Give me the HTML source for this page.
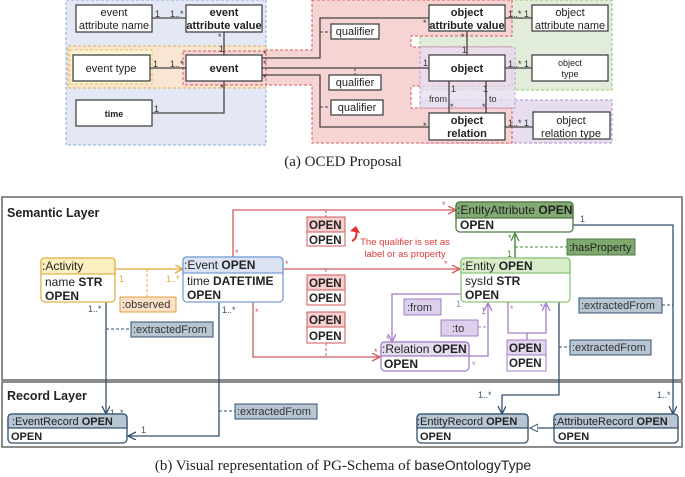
<!DOCTYPE html>
<html><head><meta charset="utf-8"><style>
html,body{margin:0;padding:0;background:#fff}
svg{display:block}
text{font-family:"Liberation Sans",sans-serif}
.s{font-family:"Liberation Serif",serif}
</style></head><body>
<svg width="685" height="477" viewBox="0 0 685 477" xmlns="http://www.w3.org/2000/svg">
<defs>
<marker id="ar" markerWidth="10" markerHeight="10" refX="8" refY="4" orient="auto" markerUnits="userSpaceOnUse"><path d="M0,0 L8,4 L0,8" fill="none" stroke="#d05a5a" stroke-width="1.3"/></marker>
<marker id="ao" markerWidth="10" markerHeight="10" refX="8" refY="4" orient="auto" markerUnits="userSpaceOnUse"><path d="M0,0 L8,4 L0,8" fill="none" stroke="#e0a838" stroke-width="1.3"/></marker>
<marker id="an" markerWidth="10" markerHeight="10" refX="8" refY="4" orient="auto" markerUnits="userSpaceOnUse"><path d="M0,0 L8,4 L0,8" fill="none" stroke="#34506e" stroke-width="1.3"/></marker>
<marker id="ap" markerWidth="10" markerHeight="10" refX="8" refY="4" orient="auto" markerUnits="userSpaceOnUse"><path d="M0,0 L8,4 L0,8" fill="none" stroke="#a57dc8" stroke-width="1.3"/></marker>
<marker id="ag" markerWidth="10" markerHeight="10" refX="8" refY="4" orient="auto" markerUnits="userSpaceOnUse"><path d="M0,0 L8,4 L0,8" fill="none" stroke="#4f8a40" stroke-width="1.3"/></marker>
<marker id="at" markerWidth="10" markerHeight="10" refX="8" refY="4" orient="auto" markerUnits="userSpaceOnUse"><path d="M0,0 L8,4 L0,8 Z" fill="#fff" stroke="#34506e" stroke-width="1"/></marker>
</defs>

<!-- ===== (a) regions ===== -->
<rect x="66" y="0" width="200" height="145" fill="#e3e8f4" stroke="#8eacdf" stroke-dasharray="3,2"/>
<rect x="68" y="46" width="198" height="42" fill="#f8e6d3" stroke="#e6b040" stroke-dasharray="3,2"/>
<rect x="70" y="50" width="82" height="34" fill="#fdf3d6" stroke="#e6c050" stroke-dasharray="3,2"/>
<rect x="420" y="0" width="192" height="90" fill="#e1edda" stroke="#8fc870" stroke-dasharray="3,2"/>
<rect x="420" y="100" width="192" height="43" fill="#e7def0" stroke="#b08fd0" stroke-dasharray="3,2"/>
<path d="M312,0 H512 V36 H411 V47 H512 V86 H411 V108 H512 V143 H312 V85 H266 V50 H312 Z" fill="#f7d4d4" stroke="#d85a5a" stroke-dasharray="3,2"/>
<rect x="183" y="51" width="83" height="34" fill="#f7d4d4" stroke="#d85a5a" stroke-dasharray="3,2"/>
<rect x="420" y="47" width="95" height="61" fill="#e7def0" stroke="#b08fd0" stroke-dasharray="3,2" opacity="0.8"/>

<g stroke="#444" stroke-width="1.3" fill="none">
<line x1="152" y1="18" x2="186" y2="18"/>
<line x1="224" y1="32" x2="224" y2="55"/>
<line x1="150" y1="68" x2="186" y2="68"/>
<path d="M224,81 V113 H152"/>
<path d="M262,58 H320 V18 H429"/>
<line x1="262" y1="68" x2="429" y2="68"/>
<path d="M262,75 H320 V127 H429"/>
<line x1="505" y1="18" x2="532" y2="18"/>
<line x1="505" y1="68" x2="532" y2="68"/>
<line x1="505" y1="127" x2="533" y2="127"/>
<line x1="467" y1="31" x2="467" y2="55"/>
<line x1="449" y1="81" x2="449" y2="113"/>
<line x1="486" y1="81" x2="486" y2="113"/>
</g>
<g stroke="#444" stroke-width="1" stroke-dasharray="3,2">
<line x1="320" y1="32" x2="331" y2="32"/><line x1="320" y1="107" x2="331" y2="107"/>
<line x1="355" y1="68" x2="355" y2="75"/>
</g>
<g fill="#fff" stroke="#444" stroke-width="1.3">
<rect x="76" y="5" width="76" height="27"/><rect x="186" y="5" width="76" height="27"/>
<rect x="73" y="55" width="77" height="26"/><rect x="186" y="55" width="76" height="26"/>
<rect x="76" y="100" width="76" height="26"/>
<rect x="331" y="24" width="48" height="15"/><rect x="329" y="75" width="52" height="15"/><rect x="331" y="100" width="52" height="15"/>
<rect x="429" y="5" width="76" height="26"/><rect x="532" y="5" width="76" height="26"/>
<rect x="429" y="55" width="76" height="26"/><rect x="532" y="55" width="76" height="26"/>
<rect x="429" y="113" width="76" height="27"/><rect x="533" y="112" width="77" height="27"/>
</g>
<g font-size="11" fill="#222" text-anchor="middle">
<text x="114" y="16">event</text><text x="114" y="29">attribute name</text>
<text x="224" y="16" font-weight="bold">event</text><text x="224" y="29" font-weight="bold">attribute value</text>
<text x="111" y="72">event type</text>
<text x="224" y="72" font-weight="bold">event</text>
<text x="114" y="117" font-size="9" font-weight="bold">time</text>
<text x="355" y="35">qualifier</text><text x="355" y="86">qualifier</text><text x="357" y="111">qualifier</text>
<text x="467" y="16" font-weight="bold">object</text><text x="467" y="29" font-weight="bold">attribute value</text>
<text x="570" y="16">object</text><text x="570" y="29">attribute name</text>
<text x="467" y="72" font-weight="bold">object</text>
<text x="570" y="66" font-size="9">object</text><text x="570" y="77" font-size="9">type</text>
<text x="467" y="124" font-weight="bold">object</text><text x="467" y="137" font-weight="bold">relation</text>
<text x="571" y="124">object</text><text x="571" y="137">relation type</text>
</g>
<g font-size="9" fill="#333">
<text x="155" y="17">1</text><text x="170" y="17">1..*</text>
<text x="218" y="40">*</text><text x="219" y="52">1</text>
<text x="153" y="67">1</text><text x="170" y="67">1..*</text>
<text x="220" y="91">*</text><text x="154" y="112">1</text>
<text x="263" y="57">*</text><text x="263" y="67">*</text><text x="263" y="81">*</text>
<text x="423" y="26">*</text><text x="423" y="66">1</text><text x="423" y="129">*</text>
<text x="508" y="17">1..* 1</text><text x="508" y="67">1..* 1</text><text x="508" y="126">1..* 1</text>
<text x="461" y="40">*</text><text x="462" y="53">1</text>
<text x="451" y="92">1</text><text x="483" y="92">1</text>
<text x="429" y="102">from</text><text x="489" y="102">to</text>
<text x="450" y="110">*</text><text x="482" y="110">*</text>
</g>
<text x="343" y="166" class="s" font-size="15" text-anchor="middle" fill="#222">(a) OCED Proposal</text>

<!-- ===== (b) ===== -->
<rect x="2" y="197" width="680" height="183" fill="#fff" stroke="#666" stroke-width="1.5"/>
<rect x="2" y="382" width="680" height="65" fill="#fff" stroke="#666" stroke-width="1.5"/>
<text x="7" y="217" font-size="12.5" font-weight="bold" fill="#222">Semantic Layer</text>
<text x="7" y="400" font-size="12.5" font-weight="bold" fill="#222">Record Layer</text>

<!-- red connectors -->
<g stroke="#d05a5a" stroke-width="1.3" fill="none">
<path d="M233,257 V210 H456" marker-end="url(#ar)"/>
<line x1="283" y1="269" x2="460" y2="269" marker-end="url(#ar)"/>
<path d="M253,302 V357 H380" marker-end="url(#ar)"/>
</g>
<g stroke="#d05a5a" stroke-width="1" stroke-dasharray="3,2">
<line x1="326" y1="210" x2="326" y2="217"/><line x1="326" y1="269" x2="326" y2="275"/><line x1="326" y1="343" x2="326" y2="357"/>
</g>
<path d="M352,241 q6,-3 4,-11" fill="none" stroke="#e03030" stroke-width="2"/>
<path d="M350,231 l6,-5 l4,7 z" fill="#e03030"/>
<text x="405" y="245" font-size="9.5" fill="#e03a3a" text-anchor="middle">The qualifier is set as</text>
<text x="405" y="257" font-size="9.5" fill="#e03a3a" text-anchor="middle">label or as property</text>
<g font-size="9" fill="#d05a5a">
<text x="235" y="256">*</text><text x="442" y="208">*</text><text x="285" y="267">*</text><text x="444" y="267">*</text>
<text x="255" y="315">*</text><text x="374" y="355">*</text>
</g>
<!-- red OPEN pairs -->
<g font-size="11.5" font-weight="bold" fill="#222">
<rect x="307" y="217" width="38" height="15" fill="#f6cfcf" stroke="#d05a5a"/><rect x="307" y="232" width="38" height="14" fill="#fff" stroke="#d05a5a"/>
<text x="309" y="229">OPEN</text><text x="309" y="244">OPEN</text>
<rect x="307" y="275" width="38" height="15" fill="#f6cfcf" stroke="#d05a5a"/><rect x="307" y="290" width="38" height="15" fill="#fff" stroke="#d05a5a"/>
<text x="309" y="287">OPEN</text><text x="309" y="302">OPEN</text>
<rect x="307" y="312" width="38" height="15" fill="#f6cfcf" stroke="#d05a5a"/><rect x="307" y="327" width="38" height="16" fill="#fff" stroke="#d05a5a"/>
<text x="309" y="324">OPEN</text><text x="309" y="340">OPEN</text>
</g>

<!-- orange -->
<line x1="115" y1="269" x2="183" y2="269" stroke="#e0a838" stroke-width="1.3" marker-end="url(#ao)"/>
<line x1="147" y1="269" x2="147" y2="297" stroke="#e0a838" stroke-dasharray="3,2"/>
<text x="119" y="282" font-size="9" fill="#e0a838">1</text><text x="166" y="282" font-size="9" fill="#e0a838">1..*</text>
<rect x="120" y="297" width="56" height="15" fill="#fbe1c6" stroke="#e0a040"/>
<text x="122" y="308" font-size="11" fill="#333">:observed</text>

<!-- navy -->
<g stroke="#34506e" stroke-width="1.3" fill="none">
<line x1="106" y1="302" x2="106" y2="414" marker-end="url(#an)"/>
<path d="M219,302 V436 H128" marker-end="url(#an)"/>
<path d="M573,225 H673 V414" marker-end="url(#an)"/>
<path d="M559,302 V395 H502 V414" marker-end="url(#an)"/>
<line x1="554" y1="428" x2="530" y2="428" marker-end="url(#at)"/>
</g>
<g stroke="#34506e" stroke-width="1" stroke-dasharray="3,2">
<line x1="106" y1="329" x2="131" y2="329"/><line x1="219" y1="411" x2="235" y2="411"/>
<line x1="662" y1="305" x2="673" y2="305"/><line x1="559" y1="347" x2="570" y2="347"/>
</g>
<g font-size="9" fill="#34506e">
<text x="88" y="312">1..*</text><text x="222" y="313">1..*</text><text x="110" y="416">1..*</text><text x="141" y="433">1</text>
<text x="580" y="222">1</text><text x="552" y="300">1..*</text><text x="478" y="398">1..*</text><text x="657" y="398">1..*</text>
</g>
<g font-size="11" fill="#333">
<rect x="131" y="322" width="82" height="15" fill="#b8c5d3" stroke="#34506e"/><text x="133" y="333">:extractedFrom</text>
<rect x="579" y="298" width="83" height="15" fill="#b8c5d3" stroke="#34506e"/><text x="581" y="309">:extractedFrom</text>
<rect x="570" y="340" width="81" height="15" fill="#b8c5d3" stroke="#34506e"/><text x="572" y="351">:extractedFrom</text>
<rect x="235" y="404" width="82" height="15" fill="#b8c5d3" stroke="#34506e"/><text x="237" y="415">:extractedFrom</text>
</g>

<!-- green -->
<line x1="515" y1="258" x2="515" y2="233" stroke="#4f8a40" stroke-width="1.5" marker-end="url(#ag)"/>
<line x1="515" y1="247" x2="567" y2="247" stroke="#4f8a40" stroke-dasharray="3,2"/>
<text x="508" y="241" font-size="9" fill="#4f8a40">*</text><text x="507" y="257" font-size="9" fill="#4f8a40">1</text>
<rect x="567" y="239" width="68" height="16" fill="#7ea86e" stroke="#4f7a45"/>
<text x="569" y="251" font-size="11" fill="#222">:hasProperty</text>

<!-- purple -->
<g stroke="#a57dc8" stroke-width="1.3" fill="none">
<path d="M461,294 H392 V342" marker-end="url(#ap)"/>
<path d="M469,356 H488 V303" marker-end="url(#ap)"/>
<path d="M508,302 V333 H546 V303" marker-end="url(#ap)"/>
<line x1="527" y1="333" x2="527" y2="340"/>
</g>
<line x1="478" y1="327" x2="488" y2="327" stroke="#a57dc8" stroke-dasharray="3,2"/>
<g font-size="9" fill="#a57dc8">
<text x="456" y="307">1</text><text x="481" y="314">1</text><text x="386" y="342">*</text><text x="472" y="368">*</text>
<text x="510" y="312">*</text><text x="540" y="310">*</text>
</g>
<rect x="404" y="299" width="37" height="16" fill="#ddd0ec" stroke="#a57dc8"/><text x="407" y="311" font-size="11" fill="#333">:from</text>
<rect x="441" y="320" width="37" height="16" fill="#ddd0ec" stroke="#a57dc8"/><text x="452" y="332" font-size="11" fill="#333">:to</text>
<g font-size="11.5" font-weight="bold" fill="#222">
<rect x="507" y="340" width="39" height="15" fill="#e2d6ee" stroke="#a57dc8"/><rect x="507" y="355" width="39" height="16" fill="#fff" stroke="#a57dc8"/>
<text x="509" y="352">OPEN</text><text x="509" y="367">OPEN</text>
</g>

<!-- nodes -->
<g font-size="12" fill="#222">
<!-- Activity -->
<rect x="41" y="258" width="74" height="44" rx="4" fill="#fff" stroke="#e2b24a" stroke-width="1.3"/>
<path d="M45,258 H111 Q115,258 115,262 V274 H41 V262 Q41,258 45,258 Z" fill="#fcefc0" stroke="#e2b24a" stroke-width="1.3"/>
<text x="42" y="270">:Activity</text><text x="45" y="286">name <tspan font-weight="bold">STR</tspan></text><text x="45" y="300" font-weight="bold">OPEN</text>
<!-- Event -->
<rect x="183" y="257" width="100" height="45" rx="4" fill="#fff" stroke="#7b9fd5" stroke-width="1.3"/>
<path d="M187,257 H279 Q283,257 283,261 V273 H183 V261 Q183,257 187,257 Z" fill="#dbe3f2" stroke="#7b9fd5" stroke-width="1.3"/>
<text x="184" y="269">:Event <tspan font-weight="bold">OPEN</tspan></text><text x="187" y="285">time <tspan font-weight="bold">DATETIME</tspan></text><text x="187" y="299" font-weight="bold">OPEN</text>
<!-- EntityAttribute -->
<rect x="456" y="202" width="117" height="30" rx="4" fill="#fff" stroke="#4f7a45" stroke-width="1.3"/>
<path d="M460,202 H569 Q573,202 573,206 V218 H456 V206 Q456,202 460,202 Z" fill="#84aa74" stroke="#4f7a45" stroke-width="1.3"/>
<text x="457" y="214">:EntityAttribute <tspan font-weight="bold">OPEN</tspan></text><text x="460" y="229" font-weight="bold">OPEN</text>
<!-- Entity -->
<rect x="461" y="258" width="109" height="44" rx="4" fill="#fff" stroke="#8cc67a" stroke-width="1.3"/>
<path d="M465,258 H566 Q570,258 570,262 V273 H461 V262 Q461,258 465,258 Z" fill="#d8ecca" stroke="#8cc67a" stroke-width="1.3"/>
<text x="462" y="270">:Entity <tspan font-weight="bold">OPEN</tspan></text><text x="465" y="285">sysId <tspan font-weight="bold">STR</tspan></text><text x="465" y="299" font-weight="bold">OPEN</text>
<!-- Relation -->
<rect x="381" y="342" width="88" height="29" rx="4" fill="#fff" stroke="#a57dc8" stroke-width="1.3"/>
<path d="M385,342 H465 Q469,342 469,346 V356 H381 V346 Q381,342 385,342 Z" fill="#e6dcf0" stroke="#a57dc8" stroke-width="1.3"/>
<text x="382" y="353">:Relation <tspan font-weight="bold">OPEN</tspan></text><text x="384" y="368" font-weight="bold">OPEN</text>
</g>
<g font-size="11" fill="#222">
<rect x="8" y="414" width="119" height="29" rx="4" fill="#fff" stroke="#34506e" stroke-width="1.3"/>
<path d="M12,414 H123 Q127,414 127,418 V428 H8 V418 Q8,414 12,414 Z" fill="#b8c5d3" stroke="#34506e" stroke-width="1.3"/>
<text x="12" y="425">:EventRecord <tspan font-weight="bold">OPEN</tspan></text><text x="11" y="440" font-weight="bold">OPEN</text>
<rect x="417" y="414" width="111" height="29" rx="4" fill="#fff" stroke="#34506e" stroke-width="1.3"/>
<path d="M421,414 H524 Q528,414 528,418 V428 H417 V418 Q417,414 421,414 Z" fill="#b8c5d3" stroke="#34506e" stroke-width="1.3"/>
<text x="417" y="425">:EntityRecord <tspan font-weight="bold">OPEN</tspan></text><text x="420" y="440" font-weight="bold">OPEN</text>
<rect x="554" y="414" width="124" height="29" rx="4" fill="#fff" stroke="#34506e" stroke-width="1.3"/>
<path d="M558,414 H674 Q678,414 678,418 V428 H554 V418 Q554,414 558,414 Z" fill="#b8c5d3" stroke="#34506e" stroke-width="1.3"/>
<text x="554" y="425">:AttributeRecord <tspan font-weight="bold">OPEN</tspan></text><text x="558" y="440" font-weight="bold">OPEN</text>
</g>
<text x="343" y="470" class="s" font-size="15" text-anchor="middle" fill="#222">(b) Visual representation of PG-Schema of <tspan font-family="Liberation Sans" font-size="14">baseOntologyType</tspan></text>
</svg>
</body></html>
